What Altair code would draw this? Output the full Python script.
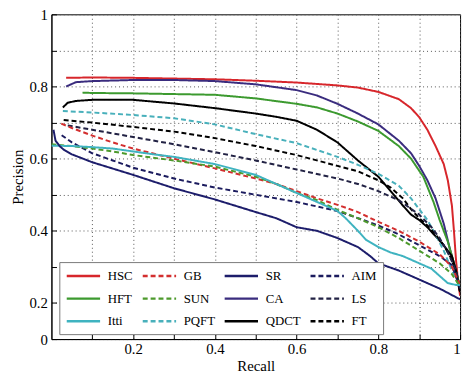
import altair as alt
import pandas as pd

# ---- data (recall, precision) ----
HSC_R = [0.036, 0.1, 0.2, 0.3, 0.4, 0.5, 0.6, 0.7, 0.75, 0.8, 0.85, 0.88, 0.9, 0.92, 0.94, 0.96, 0.97, 0.98, 0.985, 0.99, 0.995, 1.0]
HSC_P = [0.824, 0.825, 0.824, 0.822, 0.82, 0.816, 0.811, 0.803, 0.797, 0.785, 0.765, 0.74, 0.715, 0.68, 0.635, 0.585, 0.54, 0.47, 0.40, 0.32, 0.26, 0.22]

CA_R = [0.036, 0.06, 0.1, 0.2, 0.3, 0.4, 0.5, 0.6, 0.65, 0.7, 0.75, 0.8, 0.85, 0.88, 0.9, 0.92, 0.94, 0.96, 0.975, 0.99, 1.0]
CA_P = [0.80, 0.812, 0.815, 0.818, 0.818, 0.815, 0.806, 0.79, 0.775, 0.752, 0.725, 0.695, 0.65, 0.615, 0.58, 0.54, 0.49, 0.42, 0.35, 0.29, 0.24]

HFT_R = [0.076, 0.1, 0.2, 0.3, 0.4, 0.5, 0.6, 0.65, 0.7, 0.75, 0.8, 0.85, 0.88, 0.91, 0.935, 0.95, 0.97, 0.985, 1.0]
HFT_P = [0.783, 0.782, 0.781, 0.779, 0.777, 0.767, 0.752, 0.742, 0.725, 0.703, 0.677, 0.635, 0.60, 0.55, 0.48, 0.43, 0.37, 0.31, 0.245]

QDCT_R = [0.028, 0.04, 0.06, 0.1, 0.2, 0.3, 0.4, 0.5, 0.55, 0.6, 0.65, 0.7, 0.75, 0.8, 0.83, 0.86, 0.88, 0.9, 0.92, 0.94, 0.96, 0.98, 0.99, 1.0]
QDCT_P = [0.742, 0.755, 0.76, 0.763, 0.763, 0.753, 0.74, 0.725, 0.716, 0.705, 0.68, 0.645, 0.595, 0.55, 0.51, 0.47, 0.445, 0.43, 0.41, 0.385, 0.36, 0.33, 0.29, 0.23]

PQFT_R = [0.028, 0.1, 0.2, 0.3, 0.4, 0.5, 0.6, 0.7, 0.75, 0.8, 0.85, 0.88, 0.9, 0.92, 0.94, 0.96, 0.98, 1.0]
PQFT_P = [0.732, 0.728, 0.721, 0.712, 0.695, 0.668, 0.643, 0.605, 0.583, 0.558, 0.525, 0.49, 0.46, 0.43, 0.39, 0.345, 0.29, 0.25]

FT_R = [0.03, 0.1, 0.2, 0.3, 0.4, 0.5, 0.6, 0.7, 0.75, 0.8, 0.83, 0.86, 0.88, 0.9, 0.92, 0.94, 0.96, 0.98, 0.99, 1.0]
FT_P = [0.707, 0.70, 0.688, 0.675, 0.657, 0.635, 0.61, 0.58, 0.565, 0.54, 0.52, 0.49, 0.46, 0.435, 0.415, 0.39, 0.36, 0.32, 0.28, 0.23]

LS_R = [0.04, 0.1, 0.2, 0.3, 0.4, 0.5, 0.6, 0.7, 0.75, 0.8, 0.85, 0.9, 0.93, 0.95, 0.97, 0.99, 1.0]
LS_P = [0.692, 0.68, 0.66, 0.64, 0.618, 0.595, 0.57, 0.545, 0.53, 0.51, 0.485, 0.445, 0.41, 0.38, 0.34, 0.29, 0.24]

AIM_R = [0.025, 0.05, 0.1, 0.15, 0.2, 0.3, 0.4, 0.5, 0.6, 0.7, 0.75, 0.8, 0.85, 0.9, 0.95, 0.98, 1.0]
AIM_P = [0.665, 0.645, 0.615, 0.595, 0.575, 0.545, 0.52, 0.50, 0.48, 0.455, 0.435, 0.415, 0.39, 0.36, 0.33, 0.305, 0.24]

GB_R = [0.024, 0.05, 0.1, 0.15, 0.2, 0.3, 0.4, 0.5, 0.55, 0.6, 0.65, 0.7, 0.75, 0.8, 0.85, 0.9, 0.95, 0.98, 1.0]
GB_P = [0.697, 0.685, 0.664, 0.645, 0.628, 0.60, 0.573, 0.545, 0.53, 0.51, 0.49, 0.472, 0.452, 0.425, 0.40, 0.37, 0.335, 0.30, 0.25]

SUN_R = [0.0, 0.05, 0.1, 0.15, 0.2, 0.3, 0.4, 0.5, 0.55, 0.6, 0.65, 0.7, 0.75, 0.8, 0.85, 0.9, 0.95, 0.98, 1.0]
SUN_P = [0.64, 0.635, 0.628, 0.62, 0.61, 0.595, 0.578, 0.55, 0.53, 0.505, 0.485, 0.458, 0.435, 0.41, 0.38, 0.345, 0.31, 0.28, 0.245]

ITTI_R = [0.0, 0.05, 0.1, 0.15, 0.2, 0.25, 0.3, 0.35, 0.4, 0.45, 0.5, 0.55, 0.6, 0.65, 0.7, 0.72, 0.75, 0.77, 0.8, 0.83, 0.86, 0.88, 0.9, 0.93, 0.95, 0.97, 0.99, 1.0]
ITTI_P = [0.636, 0.635, 0.632, 0.628, 0.62, 0.612, 0.605, 0.595, 0.585, 0.57, 0.555, 0.53, 0.505, 0.48, 0.455, 0.435, 0.40, 0.375, 0.355, 0.34, 0.33, 0.32, 0.31, 0.295, 0.275, 0.255, 0.25, 0.25]

SR_R = [0.005, 0.01, 0.02, 0.03, 0.05, 0.1, 0.2, 0.3, 0.4, 0.5, 0.55, 0.6, 0.65, 0.7, 0.75, 0.78, 0.8, 0.85, 0.9, 0.95, 1.0]
SR_P = [0.68, 0.65, 0.635, 0.625, 0.612, 0.59, 0.555, 0.518, 0.487, 0.452, 0.435, 0.41, 0.40, 0.38, 0.355, 0.33, 0.31, 0.29, 0.265, 0.24, 0.21]

# legend order (column-major, 4 columns x 3 rows)
ORDER = ["HSC", "HFT", "Itti", "GB", "SUN", "PQFT", "SR", "CA", "QDCT", "AIM", "LS", "FT"]
COLORS = {"HSC": "#d7262b", "GB": "#d32f2f", "SR": "#1d1d6b", "AIM": "#1b1b5e",
          "HFT": "#3c9a2f", "SUN": "#4d9a2c", "CA": "#3a2c7e", "LS": "#222244",
          "Itti": "#3fb3c0", "PQFT": "#48b0bb", "QDCT": "#000000", "FT": "#000000"}
DASHED = {"GB", "SUN", "PQFT", "AIM", "LS", "FT"}

series = [("HSC", HSC_R, HSC_P), ("CA", CA_R, CA_P), ("HFT", HFT_R, HFT_P),
          ("QDCT", QDCT_R, QDCT_P), ("PQFT", PQFT_R, PQFT_P), ("FT", FT_R, FT_P),
          ("LS", LS_R, LS_P), ("AIM", AIM_R, AIM_P), ("GB", GB_R, GB_P),
          ("SUN", SUN_R, SUN_P), ("Itti", ITTI_R, ITTI_P), ("SR", SR_R, SR_P)]

rows = []
for name, rs, ps in series:
    for r, p in zip(rs, ps):
        rows.append({"method": name, "recall": r, "precision": p})
df = pd.DataFrame(rows)

TICKS = [round(0.1 * i, 1) for i in range(1, 11)]
X_LAB = "round(datum.value*10) % 2 == 0 ? (datum.value > 0.99 ? '1' : format(datum.value, '.1f')) : ''"
Y_LAB = "datum.value < 0.15 ? '0' : (round(datum.value*10) % 2 == 0 ? (datum.value > 0.99 ? '1' : format(datum.value, '.1f')) : '')"

FONT = "Liberation Serif"
W, H = 414, 329

xscale = alt.Scale(domain=[0, 1], nice=False, zero=False)
yscale = alt.Scale(domain=[0.1, 1], nice=False, zero=False)

legend = alt.Legend(
    title=None, orient="none", legendX=8, legendY=251, columns=4,
    symbolType="M-1,0H4.2", symbolSize=169, symbolStrokeWidth=2.5,
    labelFont=FONT, labelFontSize=13, labelColor="black", labelOffset=27,
    columnPadding=4, rowPadding=8, padding=6,
    strokeColor="#7a7a7a", fillColor="white",
)

lines = alt.Chart(df).mark_line(strokeWidth=2, clip=True).encode(
    x=alt.X("recall:Q", scale=xscale,
            axis=alt.Axis(values=TICKS, labelExpr=X_LAB, title="Recall", ticks=False,
                          grid=True, gridDash=[1, 3], gridColor="#555555",
                          labelPadding=3, titlePadding=2)),
    y=alt.Y("precision:Q", scale=yscale,
            axis=alt.Axis(values=TICKS, labelExpr=Y_LAB, title="Precision", ticks=False,
                          grid=True, gridDash=[1, 3], gridColor="#555555",
                          labelPadding=4, titlePadding=4)),
    color=alt.Color("method:N", scale=alt.Scale(domain=ORDER, range=[COLORS[m] for m in ORDER]),
                    legend=legend),
    strokeDash=alt.StrokeDash("method:N",
                              scale=alt.Scale(domain=ORDER,
                                              range=[[5, 3] if m in DASHED else [1, 0] for m in ORDER]),
                              legend=legend),
)

tick_layer = alt.Chart(df).mark_point(opacity=0).encode(
    x=alt.X("recall:Q", scale=xscale,
            axis=alt.Axis(orient="top", offset=-H, values=TICKS, labels=False, domain=False,
                          grid=False, ticks=True, tickSize=5, tickColor="black", title=None)),
    y=alt.Y("precision:Q", scale=yscale,
            axis=alt.Axis(orient="right", offset=-W, values=TICKS, labels=False, domain=False,
                          grid=False, ticks=True, tickSize=5, tickColor="black", title=None)),
)

chart = alt.layer(lines, tick_layer).resolve_axis(x="independent", y="independent").properties(
    width=W, height=H,
    autosize=alt.AutoSizeParams(type="none"),
    padding={"left": 44, "top": 4, "right": 6, "bottom": 36},
).configure_view(stroke="black", strokeWidth=1).configure_axis(
    labelFont=FONT, labelFontSize=15, labelColor="black",
    titleFont=FONT, titleFontSize=15, titleFontWeight="normal", titleColor="black",
    domainColor="black", domainWidth=1,
)

chart.save("out.html", embed_options={"renderer": "svg", "actions": False})
